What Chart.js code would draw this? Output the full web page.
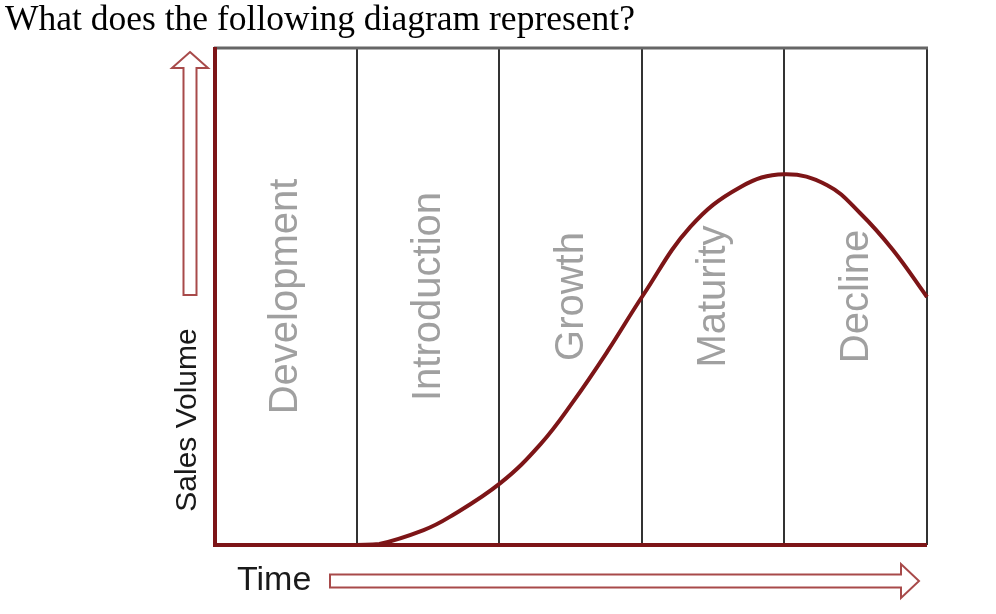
<!DOCTYPE html>
<html lang="en">
<head>
    <meta charset="UTF-8">
    <title>Product Life Cycle</title>
    <script src="https://cdn.jsdelivr.net/npm/chart.js"></script>
    <style>
        body {
            margin: 0;
            background: #ffffff;
        }

        #question {
            position: absolute;
            left: 5px;
            top: 0;
            font: 35.5px "Liberation Serif", "Times New Roman", serif;
            line-height: 36px;
            color: #000;
        }

        .chart-box {
            position: relative;
            width: 996px;
            height: 614px;
        }
    </style>
</head>
<body>
    <div class="chart-box">
        <canvas id="lifeCycleChart"></canvas>
    </div>
    <div id="question">What does the following diagram represent?</div>

    <script>
        // Stages along the time axis (one unit each)
        const stages = ['Development', 'Introduction', 'Growth', 'Maturity', 'Decline'];

        // Curve: time (stage units) and sales volume (0-100)
        const timePoints = [1.0, 1.16, 1.47, 1.65, 2.01, 2.29, 2.52, 2.76, 3.01, 3.34, 3.69, 4.0, 4.3, 4.53, 4.76, 5.0];
        const salesVolume = [0, 0.2, 3.0, 5.6, 12.5, 20.3, 28.9, 39.0, 50.3, 64.0, 72.0, 74.6, 72.4, 66.8, 59.4, 49.9];

        const axisLabelY = 'Sales Volume';
        const axisLabelX = 'Time';

        const curveColor = '#7d1517';
        const arrowColor = '#a84a4a';

        // Outlined arrow helper (points listed clockwise)
        function outlineShape(ctx, pts) {
            ctx.beginPath();
            ctx.moveTo(pts[0][0], pts[0][1]);
            for (let i = 1; i < pts.length; i++) ctx.lineTo(pts[i][0], pts[i][1]);
            ctx.closePath();
            ctx.fillStyle = '#ffffff';
            ctx.fill();
            ctx.strokeStyle = arrowColor;
            ctx.lineWidth = 2;
            ctx.stroke();
        }

        const lifeCycleDecor = {
            id: 'lifeCycleDecor',
            beforeDatasetsDraw(chart) {
                const { ctx, chartArea: a, scales: { x } } = chart;
                ctx.save();

                // top border
                ctx.strokeStyle = '#666666';
                ctx.lineWidth = 3;
                ctx.beginPath();
                ctx.moveTo(a.left, a.top);
                ctx.lineTo(a.right + 1, a.top);
                ctx.stroke();

                // stage names, rotated
                ctx.font = '40px "Liberation Sans", Arial, sans-serif';
                ctx.fillStyle = '#a0a0a0';
                ctx.textAlign = 'center';
                ctx.textBaseline = 'middle';
                stages.forEach((name, i) => {
                    ctx.save();
                    ctx.translate(x.getPixelForValue(i + 0.5) + 1, (a.top + a.bottom) / 2);
                    ctx.rotate(-Math.PI / 2);
                    ctx.fillText(name, 0, 0);
                    ctx.restore();
                });
                ctx.restore();
            },
            afterDatasetsDraw(chart) {
                const { ctx, chartArea: a } = chart;
                ctx.save();

                // axes in dark red
                ctx.strokeStyle = curveColor;
                ctx.lineWidth = 4;
                ctx.beginPath();
                ctx.moveTo(a.left + 1, a.top - 1);
                ctx.lineTo(a.left + 1, a.bottom);
                ctx.lineTo(a.right, a.bottom);
                ctx.stroke();

                // vertical arrow (sales volume)
                const vx = a.left - 24;
                outlineShape(ctx, [
                    [vx, a.top + 4],
                    [vx + 18, a.top + 20],
                    [vx + 6.5, a.top + 20],
                    [vx + 6.5, a.top + 247],
                    [vx - 6.5, a.top + 247],
                    [vx - 6.5, a.top + 20],
                    [vx - 18, a.top + 20]
                ]);

                // horizontal arrow (time)
                const hy = a.bottom + 36;
                outlineShape(ctx, [
                    [a.left + 116, hy - 6.5],
                    [a.right - 26, hy - 6.5],
                    [a.right - 26, hy - 17],
                    [a.right - 8, hy],
                    [a.right - 26, hy + 17],
                    [a.right - 26, hy + 6.5],
                    [a.left + 116, hy + 6.5]
                ]);

                // axis labels
                ctx.fillStyle = '#1a1a1a';
                ctx.font = '30px "Liberation Sans", Arial, sans-serif';
                ctx.textAlign = 'center';
                ctx.textBaseline = 'middle';
                ctx.save();
                ctx.translate(a.left - 26, 420);
                ctx.rotate(-Math.PI / 2);
                ctx.fillText(axisLabelY, 0, 0);
                ctx.restore();

                ctx.font = '34px "Liberation Sans", Arial, sans-serif';
                ctx.textAlign = 'left';
                ctx.textBaseline = 'alphabetic';
                ctx.fillText(axisLabelX, a.left + 23, a.bottom + 45);

                ctx.restore();
            }
        };

        const curveData = timePoints.map((t, i) => ({ x: t, y: salesVolume[i] }));

        new Chart(document.getElementById('lifeCycleChart'), {
            type: 'line',
            data: {
                datasets: [{
                    label: axisLabelY,
                    data: curveData,
                    borderColor: curveColor,
                    borderWidth: 4,
                    pointRadius: 0,
                    fill: false,
                    tension: 0.4,
                    clip: 4
                }]
            },
            options: {
                responsive: true,
                maintainAspectRatio: false,
                animation: false,
                layout: {
                    padding: { left: 214, right: 69, top: 48, bottom: 69 }
                },
                plugins: {
                    legend: { display: false },
                    tooltip: { enabled: false }
                },
                scales: {
                    x: {
                        type: 'linear',
                        min: 0,
                        max: 5,
                        ticks: { display: false, stepSize: 1 },
                        grid: { color: '#333333', lineWidth: 2, drawTicks: false },
                        border: { display: false }
                    },
                    y: {
                        min: 0,
                        max: 100,
                        display: false
                    }
                }
            },
            plugins: [lifeCycleDecor]
        });
    </script>
</body>
</html>
